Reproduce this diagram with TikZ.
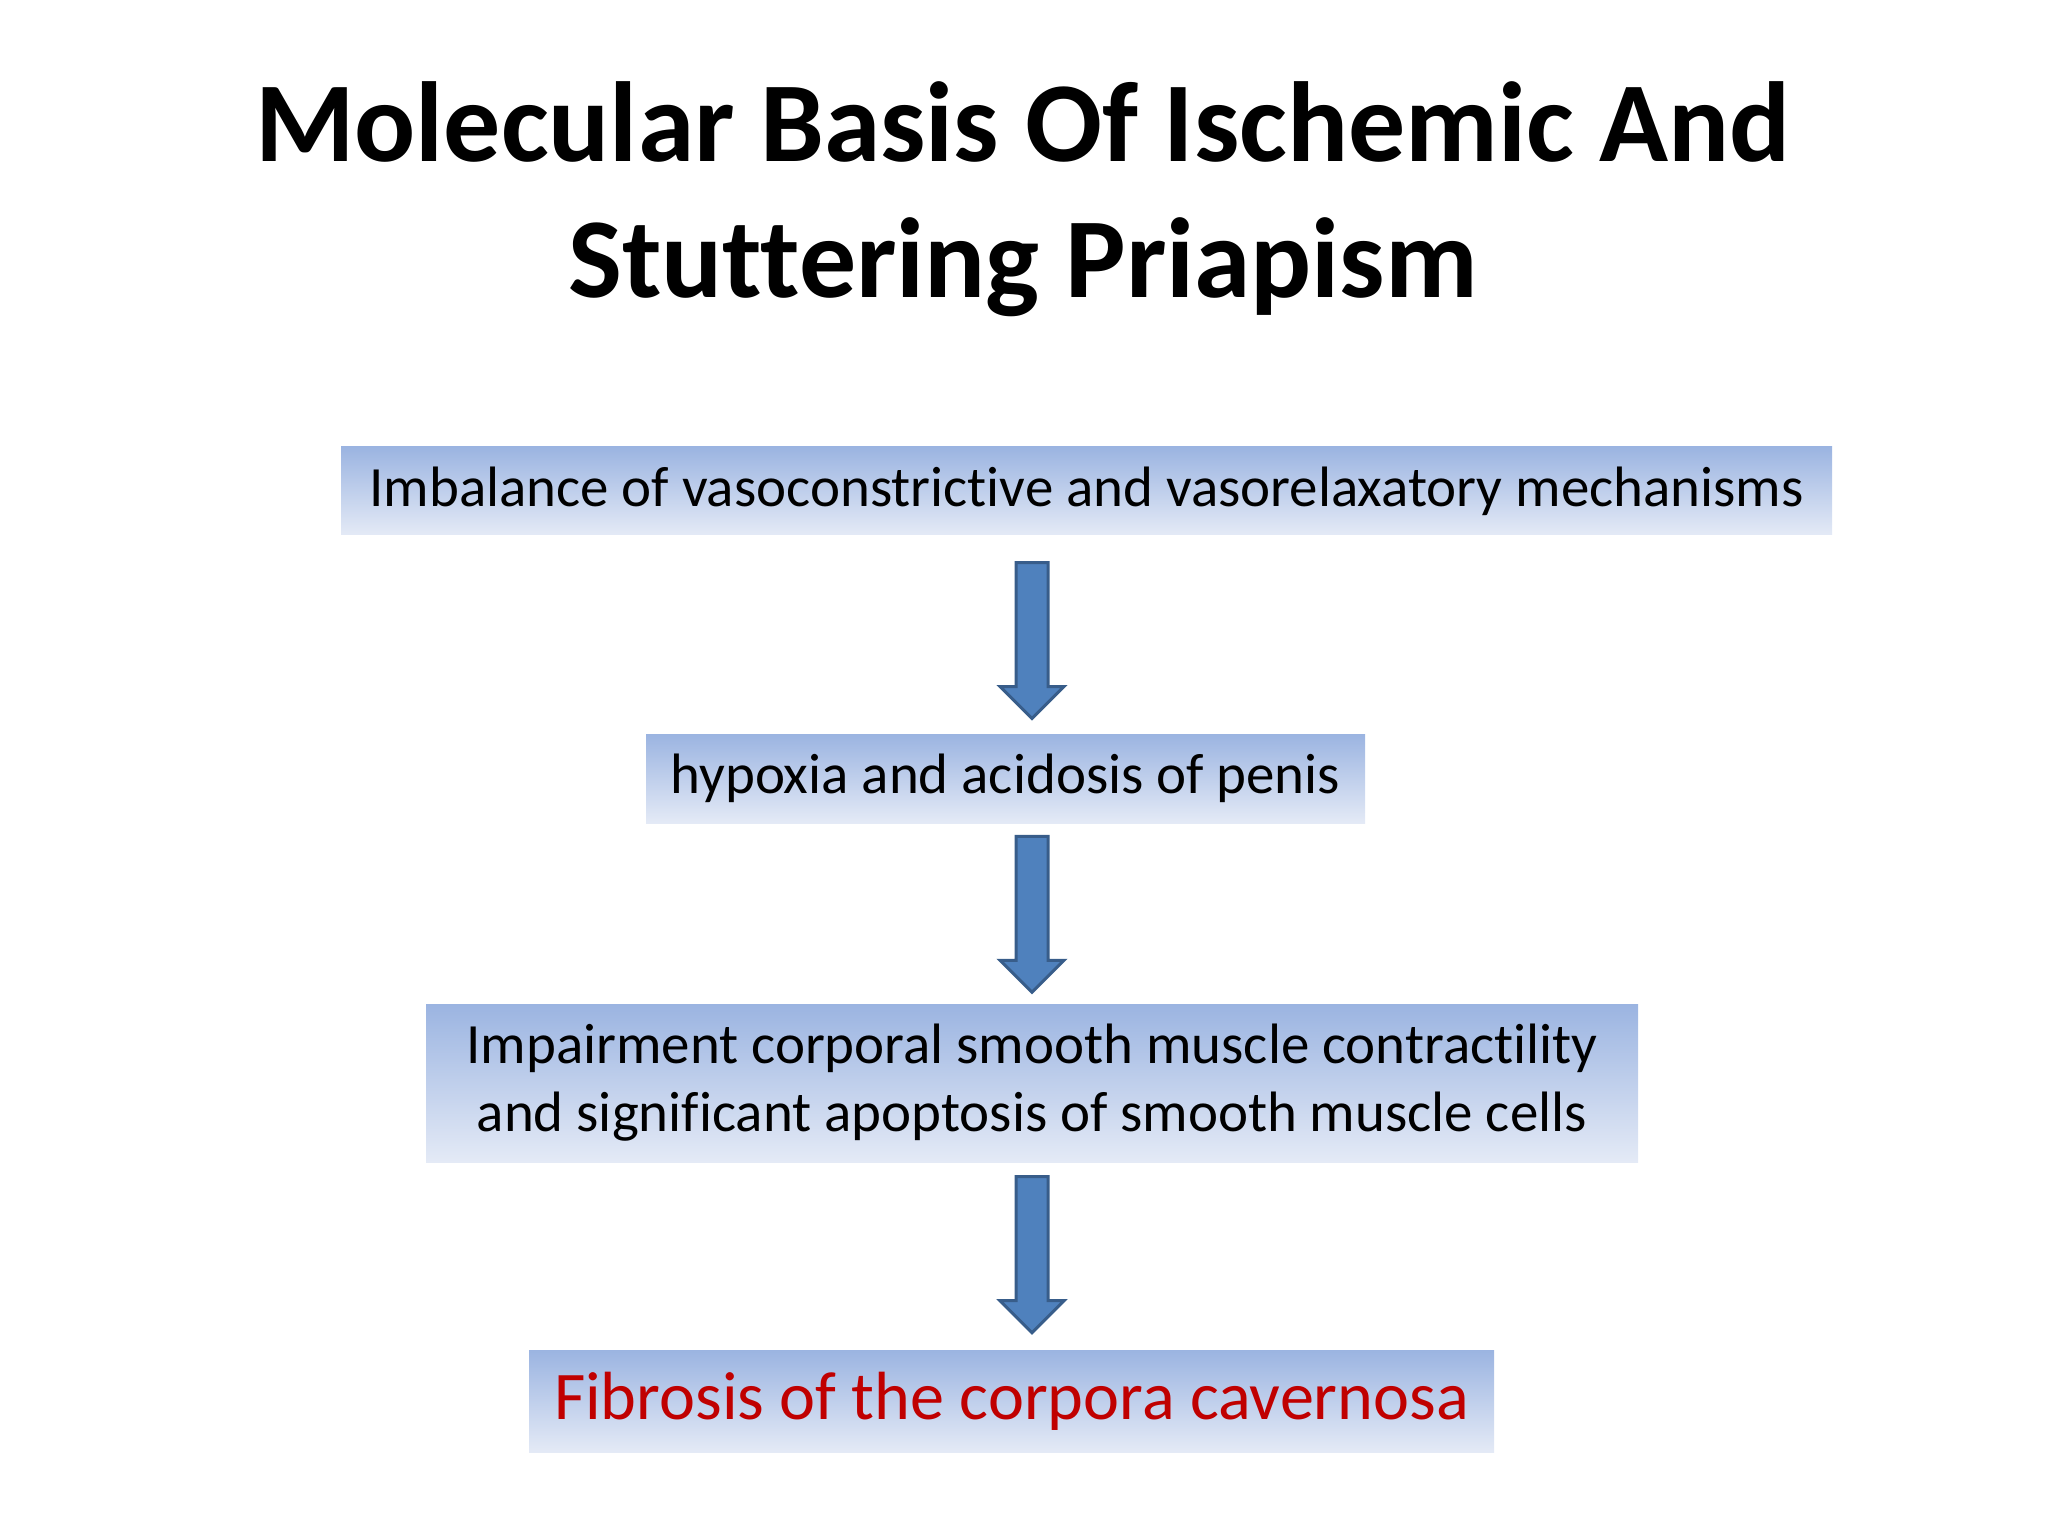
\documentclass[tikz,border=0pt]{standalone}
\usepackage{fontspec}
\setmainfont{Carlito}[Ligatures=NoCommon]
\usetikzlibrary{shapes.arrows}

\definecolor{boxtop}{RGB}{155,180,225}
\definecolor{boxbot}{RGB}{228,234,246}
\definecolor{arrowfill}{RGB}{79,129,189}
\definecolor{arrowline}{RGB}{56,93,138}
\definecolor{fibred}{RGB}{192,0,0}

\begin{document}
\begin{tikzpicture}[
  stage/.style={top color=boxtop,bottom color=boxbot,inner sep=0pt,
    font=\fontsize{16.2}{19.3}\selectfont,align=center},
  heading/.style={anchor=base,font=\bfseries\fontsize{32.4}{38.6}\selectfont},
  downarrow/.style={single arrow,draw=arrowline,fill=arrowfill,line width=0.03cm,
    rotate=-90,minimum height=1.56cm,minimum width=0.63cm,
    text height=0.29cm,text depth=0pt,inner sep=0pt,
    single arrow head extend=0.16cm}
]
 \useasboundingbox (0,0) rectangle (20.48,-15.36);

 % title
 \node[heading] (title1) at (10.23,-1.62) {Molecular Basis Of Ischemic And};
 \node[heading] (title2) at (10.23,-2.98) {Stuttering Priapism};

 % the four stages
 \node[stage,minimum width=14.91cm,minimum height=0.88cm] (imbalance) at (10.865,-4.91)
 {Imbalance of vasoconstrictive and vasorelaxatory mechanisms};
 \node[stage,minimum width=7.19cm,minimum height=0.89cm] (hypoxia) at (10.055,-7.785)
 {hypoxia and acidosis of penis};
 \node[stage,minimum width=12.12cm,minimum height=1.58cm] (impair) at (10.32,-10.83)
 {Impairment corporal smooth muscle contractility\\and significant apoptosis of smooth muscle cells};
 \node[stage,minimum width=9.65cm,minimum height=1.02cm,text=fibred,
 font=\fontsize{19.4}{22}\selectfont] (fibrosis) at (10.115,-14.01)
 {Fibrosis of the corpora cavernosa};

 % block arrows between them, all on the axis of the third box
 \path (imbalance.south -| impair.north) -- (hypoxia.north -| impair.north)
 node[downarrow,pos=0.49] (arr1) {};
 \path (hypoxia.south -| impair.north) -- (impair.north)
 node[downarrow,pos=0.46] (arr2) {};
 \path (impair.south) -- (fibrosis.north -| impair.south)
 node[downarrow,pos=0.45] (arr3) {};
\end{tikzpicture}
\end{document}
